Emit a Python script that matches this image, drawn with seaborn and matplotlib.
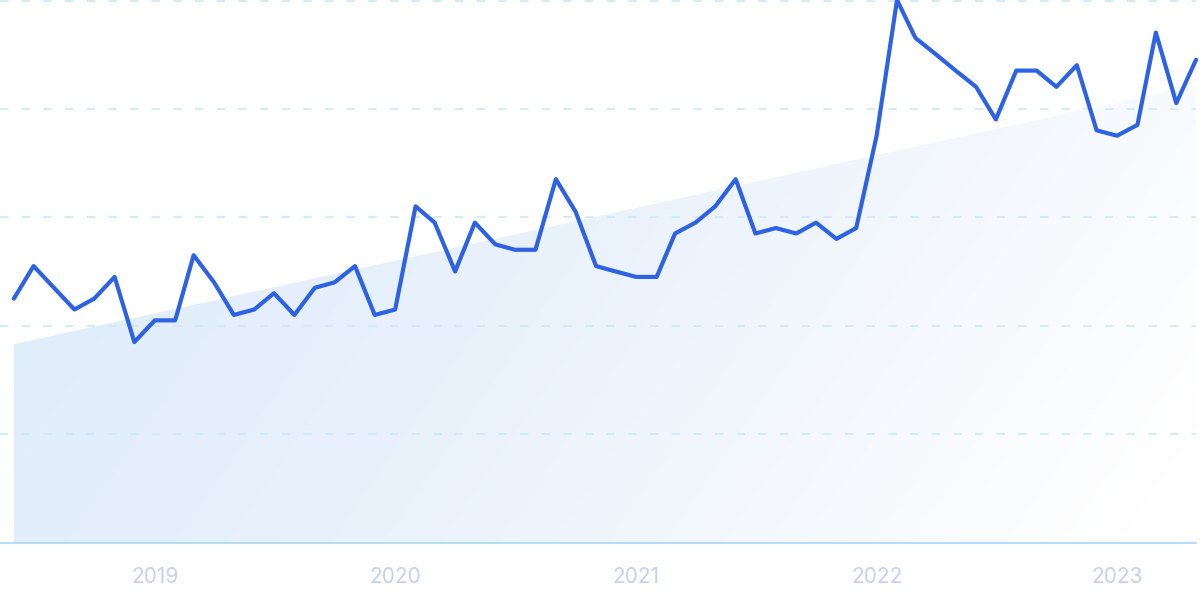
import numpy as np
import pandas as pd
import seaborn as sns
import matplotlib
matplotlib.use("Agg")
import matplotlib.pyplot as plt
import matplotlib.dates as mdates
from matplotlib.colors import LinearSegmentedColormap

# monthly interest, Jun 2018 .. May 2023
months = pd.date_range("2018-06-01", periods=60, freq="MS")
interest = [45, 51, 47, 43, 45, 49, 37, 41, 41, 53,
            48, 42, 43, 46, 42, 47, 48, 51, 42, 43,
            62, 59, 50, 59, 55, 54, 54, 67, 61, 51,
            50, 49, 49, 57, 59, 62, 67, 57, 58, 57,
            59, 56, 58, 75, 100, 93, 90, 87, 84, 78,
            87, 87, 84, 88, 76, 75, 77, 94, 81, 89]
# trend line ends
trend_start = 36.6
trend_end = 84.3
year_ticks = ["2019-01-01", "2020-01-01", "2021-01-01", "2022-01-01", "2023-01-01"]
year_labels = ["2019", "2020", "2021", "2022", "2023"]

df = pd.DataFrame({"month": months, "interest": interest})

sns.set_style("white")
plt.rcParams["font.family"] = ["Inter", "DejaVu Sans"]

fig = plt.figure(figsize=(12, 6), dpi=100)
ax = fig.add_axes([0, 0.095, 1, 0.905])

x = mdates.date2num(df["month"])
step = x[-1] - x[-2]
ax.set_xlim(x[0] - 0.7 * step, x[-1] + 0.2 * step)
ax.set_ylim(0, 100)

# trend area with gradient
poly = ax.fill_between([x[0], x[-1]], [trend_start, trend_end], 0,
                       color="none", lw=0)
gx, gy = np.meshgrid(np.linspace(0, 1, 400), np.linspace(0, 1, 200))
grad = 0.8 * gx + 0.25 * gy
cmap = LinearSegmentedColormap.from_list("area", ["#dcebfb", "#eaf2fc", "#ffffff"])
im = ax.imshow(grad, extent=[x[0], x[-1], 0, 100], origin="upper",
               aspect="auto", cmap=cmap, vmin=0, vmax=1, zorder=0)
im.set_clip_path(poly.get_paths()[0], transform=ax.transData)

# grid
left = ax.get_xlim()[0]
ax.hlines([20, 40, 60, 80, 99.9], left, x[-1], color="#cce8fc", lw=1.2,
          linestyles=[(0, (5, 8))], zorder=1, clip_on=False)
ax.plot([left, x[-1]], [0, 0], color="#b5ddfb", lw=1.5,
        zorder=1, clip_on=False)

sns.lineplot(data=df, x="month", y="interest", ax=ax, color="#2e62e4",
             lw=3, zorder=3, clip_on=False)

for s in ax.spines.values():
    s.set_visible(False)
ax.set_xticks(mdates.date2num(pd.to_datetime(year_ticks)))
ax.set_xticklabels(year_labels, fontsize=15, color="#c8d0f1")
ax.tick_params(axis="x", length=0, pad=17)
ax.set_yticks([])
ax.set_xlabel("")
ax.set_ylabel("")

fig.savefig("out.png", dpi=100)
